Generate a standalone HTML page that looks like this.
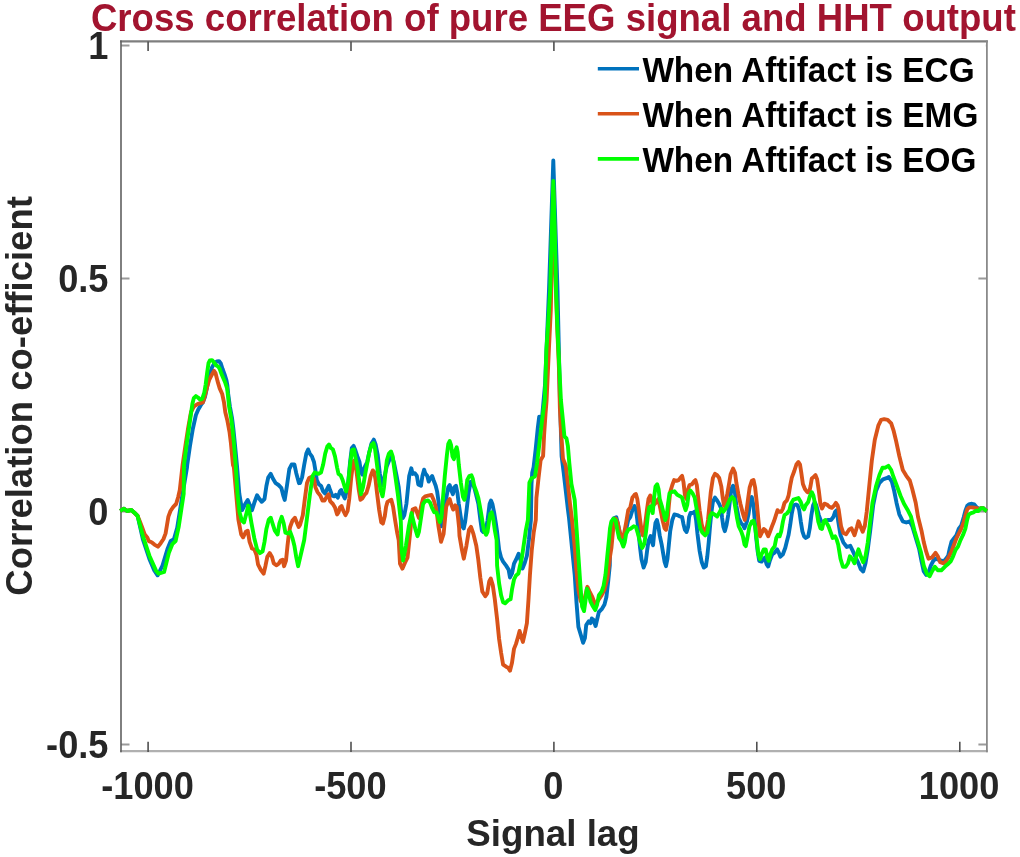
<!DOCTYPE html>
<html lang="en"><head><meta charset="utf-8"><title>Cross correlation of pure EEG signal and HHT output</title>
<style>html,body{margin:0;padding:0;background:#fff}svg{display:block}text{font-family:"Liberation Sans",sans-serif;font-weight:bold}</style></head><body>
<svg width="1020" height="857" viewBox="0 0 1020 857">
<rect width="1020" height="857" fill="#fff"/>
<path d="M121,744.4 h8.5 M986.9,744.4 h-8.5 M121,511.4 h8.5 M986.9,511.4 h-8.5 M121,278.4 h8.5 M986.9,278.4 h-8.5 M121,45.4 h8.5 M986.9,45.4 h-8.5" stroke="#9a9a9a" stroke-width="2" fill="none"/>
<rect x="588" y="42.6" width="397.8" height="143" fill="#fff"/>
<path d="M120,751.2 H987.9" stroke="#b0b0b0" stroke-width="2.3" fill="none"/>
<path d="M120,41.4 H987.9" stroke="#7e7e7e" stroke-width="2.2" fill="none"/>
<path d="M121,40.4 V752.2" stroke="#606060" stroke-width="1.6" fill="none"/>
<path d="M986.9,40.4 V752.2" stroke="#8a8a8a" stroke-width="1.8" fill="none"/>
<path d="M148.1,752.0 v-10.3 M148.1,41.4 v9.5 M351.0,752.0 v-10.3 M351.0,41.4 v9.5 M553.9,752.0 v-10.3 M553.9,41.4 v9.5 M756.8,752.0 v-10.3 M959.8,752.0 v-10.3" stroke="#505050" stroke-width="1.6" fill="none"/>
<g fill="none" stroke-width="3.9" stroke-linejoin="round" stroke-linecap="butt">
<path d="M120.2,511.0 L124.0,508.7 L127.1,511.0 L131.3,510.0 L134.1,512.4 L137.6,515.9 L142.9,539.3 L149.4,559.0 L154.3,570.4 L157.6,575.3 L162.5,565.5 L167.4,549.2 L170.7,541.0 L173.9,539.3 L177.2,527.9 L182.1,496.9 L187.0,467.5 L187.2,465.0 L190.0,445.8 L192.8,429.0 L195.9,415.0 L198.3,409.4 L200.8,405.2 L202.9,402.4 L205.0,396.8 L207.1,387.0 L209.2,375.8 L212.0,367.4 L214.8,362.5 L216.9,361.5 L219.0,361.1 L220.7,363.2 L222.5,368.8 L224.6,374.4 L226.4,380.0 L227.4,385.6 L228.2,394.0 L229.9,406.6 L232.0,417.8 L233.4,429.0 L234.8,443.0 L236.9,465.0 L239.3,493.6 L242.1,510.2 L244.9,504.6 L247.7,500.0 L249.6,504.6 L252.0,510.2 L254.3,502.8 L257.1,495.3 L259.5,499.0 L261.7,501.8 L264.5,499.0 L266.4,486.0 L268.2,477.6 L270.7,473.8 L272.9,478.5 L275.7,483.2 L278.5,485.0 L281.3,487.8 L283.2,495.3 L284.7,500.0 L286.9,486.0 L289.3,469.2 L291.6,464.5 L294.4,464.5 L296.2,472.9 L299.0,483.2 L300.0,483.0 L302.1,477.4 L304.2,464.8 L306.3,453.6 L308.1,449.4 L309.8,453.6 L311.9,456.4 L314.0,462.0 L315.4,470.4 L316.8,480.2 L318.9,484.4 L321.0,485.8 L323.1,491.4 L325.2,493.5 L327.3,488.6 L328.7,485.8 L330.1,490.0 L332.2,495.6 L334.3,496.3 L335.7,494.9 L337.8,497.7 L339.9,491.4 L341.3,490.0 L342.7,494.2 L344.8,498.4 L346.2,492.8 L348.3,481.6 L350.1,462.0 L351.8,448.0 L353.6,445.9 L355.3,450.1 L357.4,456.4 L359.5,462.0 L360.9,471.8 L362.3,474.6 L363.7,469.0 L365.1,466.2 L367.2,462.0 L369.3,452.2 L371.4,443.8 L373.8,439.6 L375.6,444.5 L377.7,455.0 L379.8,473.2 L381.9,485.8 L384.0,478.8 L386.8,466.2 L389.6,459.2 L391.7,455.0 L393.8,462.0 L396.6,476.0 L398.7,487.2 L400.1,501.2 L401.5,515.2 L402.9,518.0 L404.3,515.2 L406.4,504.0 L407.8,490.0 L409.2,476.0 L411.3,468.3 L412.7,473.9 L414.8,473.2 L416.9,476.0 L418.3,484.4 L421.0,485.8 L422.4,476.0 L424.1,469.7 L425.2,473.2 L427.3,476.0 L428.7,481.6 L430.1,478.8 L432.2,476.0 L433.6,480.2 L435.7,485.8 L437.1,491.4 L438.5,501.2 L439.9,515.2 L441.3,526.4 L442.7,523.6 L444.1,515.2 L446.2,498.4 L448.3,487.2 L449.7,485.1 L451.1,490.0 L452.9,494.2 L454.3,487.2 L456.0,485.8 L457.4,492.8 L458.8,504.0 L460.9,518.0 L462.3,526.4 L463.7,528.5 L465.1,522.2 L466.5,511.0 L468.6,492.8 L470.7,481.6 L472.8,483.0 L474.9,490.0 L477.0,498.4 L478.4,504.0 L480.5,520.8 L481.9,530.6 L483.3,532.0 L485.4,530.6 L487.5,520.8 L489.6,504.0 L491.0,500.5 L492.4,504.0 L494.1,512.4 L495.9,523.6 L497.1,531.9 L499.1,549.7 L501.1,557.7 L503.1,561.6 L506.1,565.6 L508.6,569.6 L510.0,577.5 L512.0,573.5 L514.0,563.6 L516.0,559.7 L518.6,553.7 L520.5,559.7 L522.5,568.6 L524.5,563.6 L526.9,555.7 L528.9,539.8 L530.9,520.0 L531.5,484.0 L532.2,472.8 L533.6,467.2 L535.7,449.0 L537.8,428.0 L539.2,416.8 L540.5,426.0 L542.0,418.0 L545.0,385.0 L549.0,290.0 L553.3,160.5 L557.5,290.0 L560.0,400.0 L561.6,456.0 L563.7,472.8 L565.8,491.0 L567.9,509.2 L569.1,518.7 L571.9,546.7 L574.7,574.7 L576.5,602.7 L578.4,626.9 L581.2,636.3 L583.1,642.8 L584.9,638.1 L586.2,625.1 L588.7,621.3 L590.5,623.2 L591.8,618.5 L593.3,619.5 L595.6,626.0 L597.1,619.5 L598.9,612.0 L601.7,609.2 L604.5,604.5 L606.4,597.1 L608.3,580.3 L609.8,565.3 L610.0,534.0 L611.7,522.8 L613.5,518.6 L616.3,517.2 L617.7,522.8 L619.8,532.6 L621.9,539.6 L624.0,539.6 L626.1,529.8 L628.2,520.0 L630.3,517.2 L632.4,510.2 L634.5,506.0 L635.9,508.8 L637.3,520.0 L638.7,534.0 L640.1,548.0 L641.5,559.2 L643.6,567.6 L645.7,562.0 L647.1,550.8 L648.5,541.0 L650.6,536.1 L652.0,542.4 L653.1,545.2 L654.1,534.0 L655.5,522.8 L656.9,520.0 L658.3,525.6 L659.7,535.4 L661.8,545.2 L663.2,553.6 L664.6,562.0 L666.0,566.2 L667.4,559.2 L668.8,545.2 L670.2,531.2 L672.3,520.0 L674.4,514.4 L677.2,515.1 L680.0,516.5 L682.1,517.2 L683.5,524.2 L684.9,529.8 L686.6,531.9 L688.1,527.0 L689.1,517.2 L690.5,513.0 L692.6,513.0 L694.7,511.6 L696.1,520.0 L697.5,534.0 L699.6,550.8 L701.7,562.0 L703.8,567.6 L705.9,566.2 L707.3,556.4 L708.7,542.4 L710.1,525.6 L711.5,511.6 L712.9,501.8 L715.0,497.6 L717.1,500.4 L719.2,503.9 L721.3,508.8 L722.0,517.2 L723.4,527.0 L724.8,531.2 L726.5,524.9 L728.2,515.1 L729.8,502.0 L731.4,489.0 L733.1,485.7 L734.7,490.6 L736.3,505.3 L738.8,518.4 L741.2,523.3 L742.9,524.9 L744.5,528.2 L746.9,521.6 L748.6,513.5 L750.2,502.0 L751.8,497.1 L753.5,505.3 L754.6,518.4 L755.9,534.7 L757.6,551.0 L759.2,560.8 L761.6,561.6 L763.3,559.2 L764.9,557.6 L766.5,564.1 L768.2,566.5 L769.8,560.8 L772.2,554.3 L774.7,552.7 L777.1,549.4 L778.8,552.7 L780.4,556.7 L782.9,554.3 L785.3,547.8 L786.9,541.2 L788.6,534.7 L790.2,524.9 L791.8,513.5 L793.5,505.3 L795.9,504.5 L797.6,505.3 L799.2,510.2 L800.8,521.6 L802.4,531.4 L804.1,536.3 L805.7,538.0 L808.2,536.3 L809.8,528.2 L811.4,515.1 L813.1,505.3 L814.7,502.0 L816.3,505.3 L818.8,515.1 L821.2,521.6 L824.5,521.6 L827.8,520.0 L831.0,520.0 L833.5,516.7 L835.1,511.8 L836.7,510.2 L838.2,521.3 L840.5,535.3 L843.3,542.3 L846.8,547.0 L850.3,545.8 L853.1,551.7 L856.2,558.7 L858.5,563.3 L860.8,569.2 L863.2,571.5 L865.5,563.3 L867.8,549.3 L870.2,530.7 L873.2,505.0 L876.0,491.0 L879.5,482.8 L883.0,479.3 L886.5,478.2 L888.8,477.0 L891.9,481.7 L894.2,491.0 L896.5,502.7 L899.3,514.3 L902.8,521.3 L906.3,522.5 L909.8,521.3 L912.2,526.0 L915.7,537.7 L919.2,549.3 L921.5,561.0 L923.8,571.5 L926.2,575.0 L928.5,572.7 L930.8,565.7 L933.2,561.0 L935.5,558.7 L939.0,559.8 L942.5,561.0 L944.8,560.5 L946.6,558.0 L948.2,555.6 L949.8,548.2 L951.5,541.7 L953.9,538.4 L956.4,535.2 L958.8,528.6 L961.3,525.4 L963.7,517.2 L965.4,510.7 L967.3,505.8 L969.4,504.1 L971.9,503.8 L974.3,504.4 L976.8,507.4 L979.2,509.0 L980.9,508.2 L983.3,508.2 L985.0,509.8 L986.9,511.0" stroke="#0072BD"/>
<path d="M120.2,511.0 L124.0,508.7 L127.1,511.0 L131.3,510.0 L134.1,512.4 L137.6,515.9 L139.7,521.0 L141.8,526.4 L144.6,534.1 L147.4,537.6 L148.8,541.1 L151.6,542.2 L154.4,544.6 L157.9,546.7 L160.7,543.2 L163.5,539.0 L165.6,533.4 L167.0,525.0 L168.4,516.6 L170.5,511.0 L173.3,506.8 L176.1,504.0 L178.2,497.0 L179.8,490.0 L182.6,465.0 L185.4,445.8 L188.2,427.6 L191.0,412.2 L193.8,406.6 L195.9,405.2 L198.0,403.8 L202.9,402.4 L205.0,395.4 L207.1,387.0 L209.2,380.0 L212.0,374.4 L214.1,370.9 L215.5,373.0 L217.6,381.4 L219.7,388.4 L222.2,394.0 L224.0,402.4 L225.3,412.2 L227.4,420.6 L229.5,431.8 L230.9,443.0 L233.0,465.0 L233.9,467.3 L236.3,495.3 L238.4,519.6 L241.2,534.5 L243.1,537.3 L245.9,531.7 L247.7,530.7 L249.6,541.9 L252.0,548.5 L254.3,549.4 L256.5,555.0 L258.0,564.3 L260.8,569.9 L263.6,573.7 L265.4,566.2 L267.3,556.9 L269.7,553.1 L272.0,556.9 L273.8,563.4 L276.6,565.3 L278.9,563.4 L280.7,560.6 L282.6,559.7 L284.1,566.2 L286.0,560.6 L287.5,545.7 L288.8,534.5 L290.1,527.0 L292.5,520.5 L294.9,517.7 L296.8,522.4 L298.7,527.0 L300.0,525.0 L302.8,515.2 L304.9,498.4 L307.0,483.0 L309.1,478.1 L311.9,476.7 L314.0,478.8 L315.4,487.2 L317.5,492.1 L320.3,495.6 L322.4,500.5 L324.5,500.5 L326.6,497.0 L328.7,494.2 L330.1,501.2 L332.9,504.0 L335.0,507.5 L337.1,514.5 L338.5,512.4 L339.9,507.5 L341.6,506.1 L343.4,511.0 L345.5,515.2 L347.6,511.0 L349.3,498.4 L351.1,478.8 L353.2,462.0 L354.3,460.6 L356.0,467.6 L357.4,478.8 L358.8,490.0 L360.5,499.8 L362.3,498.4 L364.4,494.9 L366.5,492.8 L368.6,485.8 L370.7,476.0 L372.8,470.4 L374.2,471.8 L375.6,480.2 L377.0,492.8 L379.1,509.6 L381.2,522.2 L382.9,523.6 L384.7,516.6 L386.1,506.8 L387.5,501.9 L389.6,500.5 L391.3,499.8 L393.1,506.8 L395.2,520.8 L397.3,533.4 L398.7,540.0 L400.0,563.6 L402.4,568.6 L405.0,562.6 L407.5,557.7 L412.6,509.6 L415.4,508.2 L417.5,513.8 L418.9,518.0 L421.0,506.8 L423.1,498.4 L425.2,496.3 L428.0,495.6 L431.5,494.9 L433.6,499.8 L435.7,506.8 L437.1,515.2 L438.5,526.4 L441.0,541.8 L443.6,533.9 L446.2,506.8 L448.3,501.2 L449.7,499.1 L451.1,504.0 L453.2,509.6 L455.3,505.4 L456.7,506.8 L458.1,518.0 L459.1,527.8 L459.5,535.9 L461.9,549.7 L463.8,558.7 L466.4,545.8 L469.0,529.9 L471.0,526.9 L473.4,533.9 L476.3,545.8 L478.3,559.7 L480.3,577.5 L482.3,591.4 L485.3,596.3 L487.2,593.4 L489.2,581.5 L490.8,578.5 L492.8,585.4 L494.8,599.3 L497.1,619.1 L499.1,639.0 L501.1,652.8 L503.1,664.7 L506.1,666.7 L508.1,667.7 L510.0,670.7 L512.0,662.8 L514.0,648.9 L516.0,643.9 L518.0,637.0 L519.6,631.0 L521.3,637.0 L522.9,641.9 L524.9,633.0 L526.9,623.1 L528.5,599.3 L529.9,575.5 L531.8,549.7 L533.8,531.9 L535.8,520.0 L536.4,498.0 L538.5,478.4 L540.6,460.2 L543.1,456.0 L544.1,435.0 L545.5,414.0 L546.6,400.0 L548.9,349.5 L550.8,309.8 L553.4,190.0 L555.9,290.0 L557.3,329.7 L559.0,369.4 L559.9,408.4 L561.3,435.0 L563.0,458.8 L565.8,465.8 L567.9,484.0 L570.0,503.6 L571.9,518.7 L574.7,546.7 L576.5,570.9 L578.4,589.6 L580.6,600.8 L583.1,604.5 L584.9,597.1 L587.4,586.8 L589.6,591.5 L592.4,597.1 L595.2,604.5 L598.0,600.8 L601.7,595.2 L604.5,589.6 L607.3,578.4 L610.1,556.0 L611.4,548.0 L613.5,525.6 L615.6,518.6 L617.7,522.8 L619.8,532.6 L621.9,537.5 L624.0,534.0 L626.1,522.8 L628.2,510.2 L630.3,507.4 L632.4,497.6 L634.5,494.8 L635.9,494.1 L637.3,499.0 L638.7,508.8 L640.1,520.0 L641.5,529.8 L642.9,535.4 L644.3,531.2 L645.7,520.0 L647.1,508.8 L648.5,499.0 L650.3,495.5 L651.7,499.0 L652.7,506.0 L655.5,503.2 L658.3,499.0 L660.4,508.8 L662.5,520.0 L664.6,528.4 L666.0,529.8 L667.4,522.8 L668.8,506.0 L670.2,492.0 L672.3,485.0 L674.1,480.1 L676.5,480.8 L678.6,480.1 L680.7,477.3 L682.1,475.9 L683.5,482.2 L684.9,494.8 L686.3,499.0 L687.7,490.6 L689.5,485.0 L691.9,484.3 L694.0,481.5 L695.4,480.1 L696.8,485.0 L698.2,497.6 L699.6,510.2 L701.7,524.2 L703.8,531.2 L705.9,532.6 L708.0,520.0 L709.4,506.0 L710.8,492.0 L712.9,478.0 L715.0,473.8 L717.1,475.2 L719.2,478.0 L721.3,486.4 L722.7,497.6 L724.1,506.0 L725.5,504.6 L726.0,500.4 L727.3,493.9 L729.0,484.1 L730.6,474.3 L733.1,468.6 L735.0,472.7 L736.3,482.4 L738.3,493.9 L740.4,503.7 L742.9,513.5 L744.8,520.0 L746.4,511.8 L748.1,498.8 L749.7,487.3 L751.8,480.8 L753.5,480.0 L755.1,487.3 L756.7,502.0 L758.4,520.0 L760.0,536.3 L761.6,533.1 L763.8,529.0 L765.7,530.6 L768.2,536.3 L769.8,532.2 L771.9,526.5 L773.9,521.6 L775.5,516.7 L777.5,510.2 L779.1,511.8 L781.2,511.8 L782.9,508.6 L784.5,502.9 L786.9,500.4 L788.6,495.5 L790.2,485.7 L791.8,477.6 L794.3,471.0 L796.4,464.5 L798.4,462.0 L800.0,464.5 L801.3,472.7 L802.9,484.1 L804.9,489.0 L807.3,492.2 L809.3,492.2 L810.6,485.7 L811.8,478.4 L813.9,476.7 L815.5,475.1 L817.1,479.2 L818.8,490.6 L820.4,503.7 L822.0,508.6 L824.5,503.7 L826.9,504.5 L829.4,506.9 L831.8,507.8 L834.3,505.3 L835.9,502.9 L837.6,505.3 L838.7,509.7 L841.0,526.0 L843.3,533.0 L846.1,534.2 L849.2,529.5 L851.5,528.3 L854.5,535.3 L856.9,527.2 L858.5,521.3 L860.8,527.2 L862.7,531.8 L864.8,526.0 L866.7,512.0 L869.0,488.7 L871.8,460.7 L874.8,439.7 L878.3,425.7 L881.1,419.8 L884.2,419.1 L887.7,419.8 L891.2,423.3 L893.5,430.3 L895.8,439.7 L899.3,456.0 L902.8,470.0 L906.3,475.8 L909.8,480.5 L912.2,488.7 L915.7,502.7 L918.0,516.7 L921.5,530.7 L923.8,542.3 L926.2,551.7 L928.5,558.7 L932.0,557.5 L935.5,552.8 L937.8,556.3 L940.2,562.2 L943.7,563.3 L946.6,560.5 L949.0,556.4 L951.5,551.5 L953.9,545.0 L956.4,538.4 L958.8,533.5 L961.3,528.6 L963.7,522.1 L965.4,515.6 L967.3,509.0 L969.4,507.4 L971.9,507.4 L974.3,507.7 L976.8,508.2 L979.2,509.0 L980.9,508.2 L983.3,508.2 L985.0,509.8 L986.9,511.0" stroke="#D95319"/>
<path d="M120.2,511.0 L124.0,508.7 L127.1,511.0 L131.3,510.0 L134.1,512.4 L137.6,515.9 L142.9,536.1 L149.4,555.7 L155.9,570.4 L158.6,573.7 L164.1,572.0 L169.0,552.4 L172.3,544.2 L175.6,541.0 L178.8,526.3 L183.7,493.6 L184.0,465.0 L186.8,443.0 L189.6,423.4 L192.4,403.8 L193.8,398.2 L195.9,396.1 L198.0,397.5 L200.1,399.6 L202.2,398.9 L204.3,392.6 L205.7,384.2 L207.1,373.0 L208.5,363.2 L209.9,360.4 L212.0,360.1 L214.1,362.5 L216.2,365.3 L218.3,366.7 L219.7,368.8 L221.1,373.0 L222.9,377.2 L225.3,382.8 L227.1,388.4 L228.1,396.8 L229.1,406.6 L231.1,417.8 L232.5,429.0 L233.9,443.0 L235.7,465.0 L237.6,495.3 L239.5,512.1 L241.8,520.5 L244.0,522.4 L246.8,512.1 L248.1,505.6 L249.6,512.1 L251.5,523.3 L254.3,538.2 L257.1,549.4 L259.9,553.1 L262.6,551.3 L264.5,541.9 L266.4,528.9 L268.8,519.6 L270.7,517.7 L272.5,523.3 L274.8,530.7 L277.6,534.5 L279.4,523.3 L281.7,516.8 L283.7,523.3 L285.4,532.6 L287.8,533.5 L290.1,531.7 L292.5,538.2 L294.4,545.7 L296.2,556.9 L298.1,566.2 L304.2,540.0 L307.0,518.0 L309.8,495.6 L312.6,476.0 L314.7,472.5 L318.2,473.9 L321.0,472.5 L323.1,464.8 L325.2,453.6 L327.3,446.6 L329.0,444.5 L330.8,448.0 L332.9,449.4 L335.0,456.4 L337.1,467.6 L338.5,473.9 L340.6,475.3 L342.7,480.2 L344.8,487.2 L346.2,491.4 L348.3,481.6 L350.4,462.0 L352.1,450.1 L353.9,449.4 L355.3,456.4 L357.4,467.6 L359.5,483.0 L360.9,494.2 L363.0,487.2 L365.1,474.6 L367.2,463.4 L369.3,452.2 L371.4,445.2 L373.5,443.1 L374.9,448.0 L376.3,459.2 L378.4,476.0 L380.5,490.0 L382.6,496.3 L384.0,487.2 L385.4,473.2 L386.8,460.6 L388.9,453.6 L391.0,451.5 L392.7,456.4 L394.1,467.6 L395.9,480.2 L398.0,495.6 L399.7,511.0 L400.8,520.8 L401.6,549.7 L403.0,560.6 L405.9,545.8 L408.9,525.9 L411.5,513.1 L413.3,520.8 L415.4,529.2 L417.5,536.2 L418.9,532.0 L421.0,518.0 L423.1,504.0 L425.2,501.2 L428.0,500.5 L430.1,502.6 L432.2,508.2 L434.3,512.4 L436.4,512.4 L438.5,518.0 L439.9,522.2 L441.3,518.0 L442.7,501.2 L444.8,476.0 L446.9,455.0 L448.3,443.8 L449.7,441.0 L451.1,445.2 L452.5,456.4 L453.9,459.2 L455.3,450.8 L456.7,447.3 L457.7,452.2 L458.8,464.8 L460.9,483.0 L463.0,497.0 L464.4,499.8 L465.8,492.8 L467.2,480.2 L469.3,476.0 L471.4,475.3 L472.8,478.8 L474.2,485.8 L476.3,491.4 L478.4,498.4 L480.5,509.6 L482.6,522.2 L484.0,530.6 L486.1,534.8 L487.5,532.0 L488.9,522.2 L490.3,513.8 L491.7,512.4 L493.1,518.0 L494.9,530.6 L496.6,540.0 L497.1,565.6 L499.1,583.4 L501.1,595.3 L503.1,602.3 L505.1,603.3 L508.1,600.3 L510.6,599.3 L512.0,589.4 L514.0,579.5 L516.0,575.5 L518.4,573.5 L520.0,565.6 L521.9,557.7 L523.9,543.8 L525.9,529.9 L527.9,520.0 L529.4,482.6 L531.5,478.4 L535.0,476.3 L537.1,463.0 L539.6,442.0 L542.0,421.0 L544.8,400.0 L546.4,349.5 L548.4,319.8 L550.2,290.0 L551.6,240.0 L553.3,181.0 L555.0,240.0 L556.0,290.0 L557.5,329.7 L559.4,369.4 L560.9,400.0 L563.0,421.0 L564.4,436.4 L566.5,438.5 L567.9,446.2 L569.3,463.0 L571.4,484.0 L574.7,500.0 L576.5,528.0 L578.4,556.0 L580.3,584.0 L582.1,606.4 L584.0,611.1 L585.5,600.8 L586.8,588.7 L588.7,593.3 L590.5,601.7 L592.4,605.5 L595.2,610.1 L597.1,604.5 L598.9,595.2 L601.7,591.5 L603.6,585.9 L605.5,574.7 L607.3,556.0 L609.2,537.3 L610.0,528.4 L611.4,521.4 L613.5,518.6 L615.6,520.0 L617.0,528.4 L619.1,538.2 L621.2,541.0 L623.3,546.6 L624.7,542.4 L626.1,534.0 L628.2,529.8 L631.0,528.4 L633.8,526.3 L635.9,527.0 L638.0,534.0 L640.1,542.4 L642.2,548.0 L644.3,543.8 L646.1,531.2 L647.8,515.8 L649.2,507.4 L651.3,506.0 L652.7,513.0 L654.1,497.6 L655.5,486.4 L657.2,484.3 L658.6,489.2 L659.7,499.0 L661.8,506.0 L663.9,514.4 L665.3,520.0 L666.7,515.8 L668.1,503.2 L669.5,493.4 L671.6,492.0 L674.4,491.3 L677.2,494.8 L680.0,496.2 L682.1,497.6 L684.2,506.0 L685.6,510.2 L687.3,504.6 L688.7,493.4 L690.5,490.6 L692.6,493.4 L694.7,497.6 L696.1,506.0 L698.2,517.2 L700.3,528.4 L702.4,532.6 L705.2,535.4 L707.3,532.6 L708.7,524.2 L710.1,515.8 L712.2,513.0 L714.3,514.4 L717.1,516.5 L719.2,513.0 L721.3,508.8 L723.4,511.6 L725.5,508.8 L727.3,505.3 L729.8,499.6 L732.2,497.1 L733.9,498.8 L735.5,508.6 L737.1,518.4 L738.8,526.5 L741.2,531.4 L742.9,536.3 L744.5,544.5 L745.8,546.1 L747.4,538.0 L749.4,526.5 L751.8,521.6 L753.5,520.8 L755.1,526.5 L756.7,539.6 L758.4,554.3 L760.0,559.2 L761.6,554.3 L763.8,549.4 L765.7,549.4 L767.3,557.6 L768.7,560.8 L770.3,554.3 L772.2,549.4 L774.7,546.1 L776.3,538.0 L778.0,534.7 L779.6,536.3 L781.2,531.4 L782.9,521.6 L784.5,515.1 L786.9,513.5 L789.4,510.2 L791.0,503.7 L793.5,499.6 L795.9,498.8 L798.4,498.0 L800.8,502.0 L802.4,506.9 L804.1,509.4 L805.7,505.3 L808.2,502.0 L809.8,496.3 L811.8,492.2 L813.4,495.5 L815.0,503.7 L816.7,511.8 L818.3,521.6 L820.4,528.2 L822.0,529.0 L823.7,521.6 L825.3,520.0 L826.9,523.3 L828.6,526.5 L831.0,533.1 L832.7,538.0 L835.1,536.3 L836.7,539.6 L838.2,544.7 L840.5,558.7 L842.9,566.8 L845.7,566.8 L848.0,563.3 L849.9,556.3 L852.7,559.8 L854.5,563.3 L856.9,554.0 L858.5,549.3 L860.8,556.3 L863.2,562.2 L865.5,556.3 L867.8,542.3 L870.2,521.3 L872.5,502.7 L876.0,486.3 L879.5,474.7 L882.5,467.7 L885.3,467.7 L888.4,465.8 L891.2,470.0 L893.5,477.0 L897.0,486.3 L900.5,495.7 L904.0,503.8 L907.5,509.7 L911.0,516.7 L914.5,530.7 L918.0,542.3 L920.8,551.7 L923.8,565.7 L926.9,573.8 L929.7,576.2 L932.0,571.5 L934.8,566.8 L937.8,570.3 L941.3,570.3 L944.8,566.8 L947.4,564.6 L950.7,561.3 L953.1,556.4 L955.6,549.9 L958.0,546.6 L960.5,540.1 L962.9,535.2 L965.4,528.6 L967.0,520.5 L968.6,514.7 L971.1,513.1 L973.5,512.3 L976.0,510.7 L978.4,511.0 L980.9,508.2 L983.3,508.2 L985.0,509.8 L986.9,511.0" stroke="#00FF00"/>
</g>
<text transform="translate(553.4,30.9) scale(1,1.04)" font-size="36.6" text-anchor="middle" fill="#A2142F" textLength="925" lengthAdjust="spacingAndGlyphs">Cross correlation of pure EEG signal and HHT output</text>
<text transform="translate(147.5,799.2) scale(1,1.06)" font-size="36.2" text-anchor="middle" fill="#262626">-1000</text>
<text transform="translate(350.4,799.2) scale(1,1.06)" font-size="36.2" text-anchor="middle" fill="#262626">-500</text>
<text transform="translate(553.3,799.2) scale(1,1.06)" font-size="36.2" text-anchor="middle" fill="#262626">0</text>
<text transform="translate(756.2,799.2) scale(1,1.06)" font-size="36.2" text-anchor="middle" fill="#262626">500</text>
<text transform="translate(959.1,799.2) scale(1,1.06)" font-size="36.2" text-anchor="middle" fill="#262626">1000</text>
<text transform="translate(108.5,758.2) scale(1,1.06)" font-size="36.2" text-anchor="end" fill="#262626">-0.5</text>
<text transform="translate(108.5,525.2) scale(1,1.06)" font-size="36.2" text-anchor="end" fill="#262626">0</text>
<text transform="translate(108.5,292.2) scale(1,1.06)" font-size="36.2" text-anchor="end" fill="#262626">0.5</text>
<text transform="translate(108.5,59.2) scale(1,1.06)" font-size="36.2" text-anchor="end" fill="#262626">1</text>
<text x="553" y="845.6" font-size="36.7" text-anchor="middle" fill="#262626">Signal lag</text>
<text transform="translate(32,395.9) rotate(-90) scale(1,1.03)" font-size="36.5" text-anchor="middle" fill="#262626">Correlation co-efficient</text>
<path d="M597.8,68.7 H639" stroke="#0072BD" stroke-width="3.6"/>
<text transform="translate(642.4,81.9) scale(1,1.05)" font-size="33.35" fill="#000">When Aftifact is ECG</text>
<path d="M597.8,113.8 H639" stroke="#D95319" stroke-width="3.6"/>
<text transform="translate(642.4,127.0) scale(1,1.05)" font-size="33.35" fill="#000">When Aftifact is EMG</text>
<path d="M597.8,158.9 H639" stroke="#00FF00" stroke-width="3.6"/>
<text transform="translate(642.4,172.1) scale(1,1.05)" font-size="33.35" fill="#000">When Aftifact is EOG</text>
</svg></body></html>
